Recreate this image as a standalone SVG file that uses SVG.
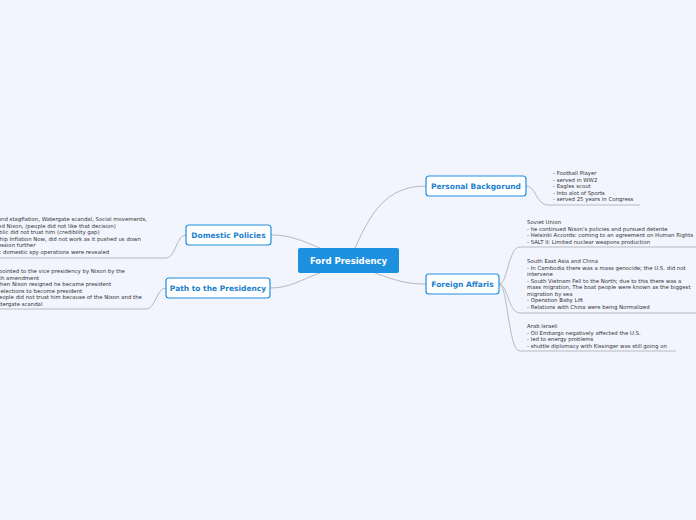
<svg xmlns="http://www.w3.org/2000/svg" width="696" height="520" viewBox="0 0 696 520">
<style>
.n{fill:#fff;stroke:#1e90e0;stroke-width:1.2}
.nt{font-family:"DejaVu Sans",sans-serif;font-size:7.5px;font-weight:bold;fill:#1b7fd0;text-anchor:middle}
.t{font-family:"DejaVu Sans",sans-serif;font-size:5.4px;fill:#333}
.c{fill:none;stroke:#b8b8c0;stroke-width:1}
</style>
<rect width="696" height="520" fill="#f2f5fe"/>
<g id="connectors">
<path class="c" d="M355 248 C370 215 385 186 426 186"/>
<path class="c" d="M375 273 C395 280 405 284 426 284"/>
<path class="c" d="M320 248 C300 240 290 235 271 235"/>
<path class="c" d="M320 273 C300 280 290 288 270 288"/>
<path class="c" d="M526 186 C536 186 536 205 548 205 L640 205"/>
<path class="c" d="M499 284 C508 284 508 247 520 247 L696 247"/>
<path class="c" d="M499 284 C508 284 508 313 520 313 L696 313"/>
<path class="c" d="M499 284 C508 284 508 351 520 351 L676 351"/>
<path class="c" d="M186 235 C176 235 176 258 166 258 L0 258"/>
<path class="c" d="M166 288 C156 288 156 309 146 309 L0 309"/>
</g>
<g id="center"><rect x="298" y="248" width="101" height="25" rx="2" fill="#1e90e0"/><text x="348.5" y="264" class="nt" style="fill:#fff;font-size:8.5px">Ford Presidency</text></g>
<g id="personal"><rect class="n" x="426" y="176" width="100" height="20" rx="3"/><text x="476" y="189" class="nt">Personal Backgorund</text></g>
<g id="foreign"><rect class="n" x="426" y="274" width="73" height="20" rx="3"/><text x="462.5" y="287" class="nt">Foreign Affaris</text></g>
<g id="domestic"><rect class="n" x="186" y="225" width="85" height="20" rx="3"/><text x="228.5" y="238" class="nt">Domestic Policies</text></g>
<g id="path"><rect class="n" x="166" y="278" width="104" height="20" rx="3"/><text x="218" y="291" class="nt">Path to the Presidency</text></g>
<g id="personal-text" class="t">
<text x="553" y="175">- Football Player</text>
<text x="553" y="181.5">- served in WW2</text>
<text x="553" y="188">- Eagles scout</text>
<text x="553" y="194.5">- Into alot of Sports</text>
<text x="553" y="201">- served 25 years in Congress</text>
</g>
<g id="soviet" class="t">
<text x="527" y="224">Soviet Union</text>
<text x="527" y="230.5">- he continued Nixon's policies and pursued detente</text>
<text x="527" y="237">- Helsinki Accords: coming to an agreement on Human Rights</text>
<text x="527" y="243.5">- SALT II: Limited nuclear weapons production</text>
</g>
<g id="seasia" class="t">
<text x="527" y="263">South East Asia and China</text>
<text x="527" y="269.5">- In Cambodia there was a mass genocide; the U.S. did not</text>
<text x="527" y="276">intervene</text>
<text x="527" y="282.5">- South Vietnam Fell to the North; due to this there was a</text>
<text x="527" y="289">mass migration, The boat people were known as the biggest</text>
<text x="527" y="295.5">migration by sea</text>
<text x="527" y="302">- Operation Baby Lift</text>
<text x="527" y="308.5">- Relations with China were being Normalized</text>
</g>
<g id="arab" class="t">
<text x="527" y="328">Arab Israeli</text>
<text x="527" y="334.5">- Oil Embargo negatively affected the U.S.</text>
<text x="527" y="341">- led to energy problems</text>
<text x="527" y="347.5">- shuttle diplomacy with Kissinger was still going on</text>
</g>
<g id="domestic-text" class="t">
<text x="-26" y="221">Inflation and stagflation, Watergate scandal, Social movements,</text>
<text x="-38" y="227.5">- Ford pardoned Nixon, (people did not like that decision)</text>
<text x="-22" y="234">- the public did not trust him (credibility gap)</text>
<text x="-24" y="240.5">- WIN: Whip Inflation Now, did not work as it pushed us down</text>
<text x="-21" y="247">the recession further</text>
<text x="-20" y="253.5">secrets: domestic spy operations were revealed</text>
</g>
<g id="path-text" class="t">
<text x="-8" y="273">appointed to the vice presidency by Nixon by the</text>
<text x="-8" y="279.5">25th amendment</text>
<text x="-8" y="286">- when Nixon resigned he became president</text>
<text x="-8" y="292.5">no elections to become president</text>
<text x="-8" y="299">- people did not trust him because of the Nixon and the</text>
<text x="-8" y="305.5">Watergate scandal</text>
</g>
</svg>
